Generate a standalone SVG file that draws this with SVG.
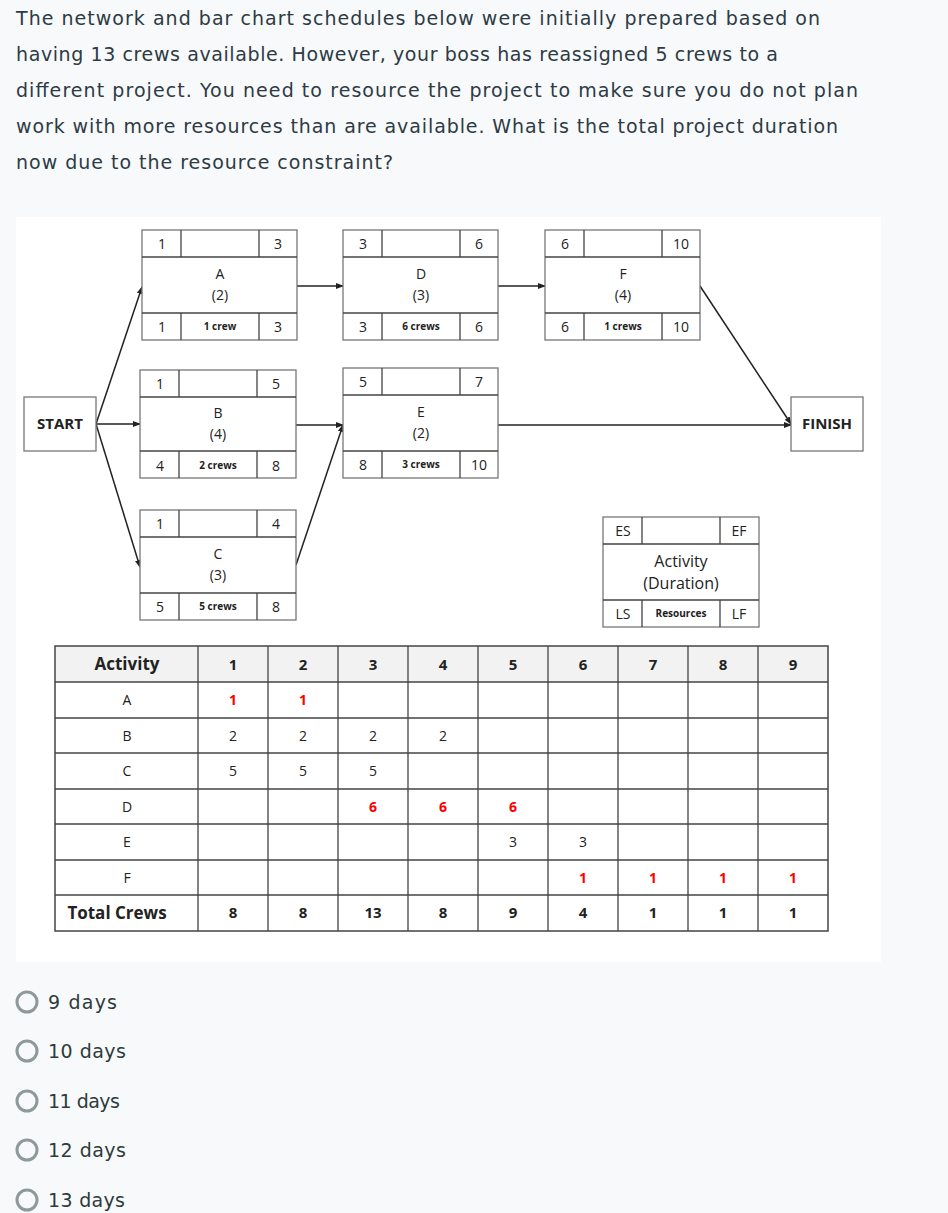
<svg xmlns="http://www.w3.org/2000/svg" width="948" height="1213" viewBox="0 0 948 1213">
<defs>
<style>
.q{font-family:"DejaVu Sans","Liberation Sans",sans-serif;font-size:19px;fill:#2d3b45}
.n{fill:#fff;stroke:#777;stroke-width:1.3}
.t{font-family:"Open Sans","Liberation Sans",sans-serif;font-size:14px;fill:#222;text-anchor:middle}
.tb{font-family:"Open Sans","Liberation Sans",sans-serif;font-size:10px;font-weight:bold;fill:#222;text-anchor:middle}
.se{font-family:"Open Sans","Liberation Sans",sans-serif;font-size:15px;font-weight:bold;fill:#222;text-anchor:middle}
.c{stroke:#222;stroke-width:1.5;fill:none;marker-end:url(#ah)}
.g{stroke:#444;stroke-width:1.3;fill:none}
.h{font-family:"Open Sans","Liberation Sans",sans-serif;font-size:15px;font-weight:bold;fill:#222;text-anchor:middle}
.r{font-family:"Open Sans","Liberation Sans",sans-serif;font-size:14px;fill:#222;text-anchor:middle}
.red{font-family:"Open Sans","Liberation Sans",sans-serif;font-size:14px;font-weight:bold;fill:#f00;text-anchor:middle}
.o{font-family:"DejaVu Sans","Liberation Sans",sans-serif;font-size:19px;fill:#2d3b3b}
.rad{fill:none;stroke:#8e9a99;stroke-width:3}
</style>
<marker id="ah" markerWidth="8" markerHeight="8" refX="7" refY="4" orient="auto" markerUnits="userSpaceOnUse"><path d="M0,1 L8,4 L0,7 Z" fill="#222"/></marker>
</defs>
<rect width="948" height="1213" fill="#f8f9fb"/>
<g id="question">
<text class="q" x="16" y="25" textLength="804">The network and bar chart schedules below were initially prepared based on</text>
<text class="q" x="16" y="61" textLength="762">having 13 crews available.  However, your boss has reassigned 5 crews to a</text>
<text class="q" x="16" y="97" textLength="842">different project.  You need to resource the project to make sure you do not plan</text>
<text class="q" x="16" y="133" textLength="822">work with more resources than are available.  What is the total project duration</text>
<text class="q" x="16" y="169" textLength="377">now due to the resource constraint?</text>
</g>
<rect x="16" y="217" width="865" height="745" fill="#fff"/>
<g id="connectors">
<path class="c" d="M96,424 L140,424"/>
<path class="c" d="M96,424 L142,287"/>
<path class="c" d="M96,424 L140,567"/>
<path class="c" d="M297,286 L343,286"/>
<path class="c" d="M296,425 L343,425"/>
<path class="c" d="M296,565 L343,425"/>
<path class="c" d="M498,286 L545,286"/>
<path class="c" d="M700,286 L791,424"/>
<path class="c" d="M498,425 L791,425"/>
</g>
<g id="start"><rect class="n" x="24" y="397" width="72" height="54"/><text class="se" x="60" y="429">START</text></g>
<g id="finish"><rect class="n" x="791" y="397" width="72" height="54"/><text class="se" x="827" y="429">FINISH</text></g>
<g id="nodeA" transform="translate(142,230)">
<rect class="n" width="155" height="110"/><path class="g" d="M0,27H155M0,83H155M39,0V27M117,0V27M39,83V110M117,83V110"/>
<text class="t" x="20" y="19">1</text><text class="t" x="136" y="19">3</text>
<text class="t" x="78" y="49">A</text><text class="t" x="78" y="70">(2)</text>
<text class="t" x="20" y="102">1</text><text class="tb" x="78" y="100">1 crew</text><text class="t" x="136" y="102">3</text></g>
<g id="nodeD" transform="translate(343,230)">
<rect class="n" width="155" height="110"/><path class="g" d="M0,27H155M0,83H155M39,0V27M117,0V27M39,83V110M117,83V110"/>
<text class="t" x="20" y="19">3</text><text class="t" x="136" y="19">6</text>
<text class="t" x="78" y="49">D</text><text class="t" x="78" y="70">(3)</text>
<text class="t" x="20" y="102">3</text><text class="tb" x="78" y="100">6 crews</text><text class="t" x="136" y="102">6</text></g>
<g id="nodeF" transform="translate(545,230)">
<rect class="n" width="155" height="110"/><path class="g" d="M0,27H155M0,83H155M39,0V27M117,0V27M39,83V110M117,83V110"/>
<text class="t" x="20" y="19">6</text><text class="t" x="136" y="19">10</text>
<text class="t" x="78" y="49">F</text><text class="t" x="78" y="70">(4)</text>
<text class="t" x="20" y="102">6</text><text class="tb" x="78" y="100">1 crews</text><text class="t" x="136" y="102">10</text></g>
<g id="nodeB" transform="translate(140,370)">
<rect class="n" width="156" height="108"/><path class="g" d="M0,27H156M0,81H156M39,0V27M117,0V27M39,81V108M117,81V108"/>
<text class="t" x="20" y="19">1</text><text class="t" x="136" y="19">5</text>
<text class="t" x="78" y="48">B</text><text class="t" x="78" y="69">(4)</text>
<text class="t" x="20" y="101">4</text><text class="tb" x="78" y="99">2 crews</text><text class="t" x="136" y="101">8</text></g>
<g id="nodeE" transform="translate(343,368)">
<rect class="n" width="155" height="110"/><path class="g" d="M0,27H155M0,83H155M39,0V27M117,0V27M39,83V110M117,83V110"/>
<text class="t" x="20" y="19">5</text><text class="t" x="136" y="19">7</text>
<text class="t" x="78" y="49">E</text><text class="t" x="78" y="70">(2)</text>
<text class="t" x="20" y="102">8</text><text class="tb" x="78" y="100">3 crews</text><text class="t" x="136" y="102">10</text></g>
<g id="nodeC" transform="translate(140,510)">
<rect class="n" width="156" height="110"/><path class="g" d="M0,27H156M0,83H156M39,0V27M117,0V27M39,83V110M117,83V110"/>
<text class="t" x="20" y="19">1</text><text class="t" x="136" y="19">4</text>
<text class="t" x="78" y="49">C</text><text class="t" x="78" y="70">(3)</text>
<text class="t" x="20" y="102">5</text><text class="tb" x="78" y="100">5 crews</text><text class="t" x="136" y="102">8</text></g>
<g id="legend" transform="translate(603,517)">
<rect class="n" width="156" height="110"/><path class="g" d="M0,27H156M0,83H156M39,0V27M117,0V27M39,83V110M117,83V110"/>
<text class="t" x="20" y="19">ES</text><text class="t" x="136" y="19">EF</text>
<text class="t" x="78" y="50" style="font-size:16px">Activity</text><text class="t" x="78" y="72" style="font-size:16px">(Duration)</text>
<text class="t" x="20" y="102">LS</text><text class="tb" x="78" y="100">Resources</text><text class="t" x="136" y="102">LF</text></g>
<g id="table">
<rect x="55" y="646" width="773" height="36" fill="#f2f2f2"/>
<rect x="55" y="646" width="773" height="285" fill="none" stroke="#444" stroke-width="1.5"/>
<path class="g" d="M55,682H828M55,718H828M55,753H828M55,789H828M55,824H828M55,860H828M55,895H828M198,646V931M268,646V931M338,646V931M408,646V931M478,646V931M548,646V931M618,646V931M688,646V931M758,646V931"/>
<text class="h" x="127" y="670" style="font-size:17px">Activity</text>
<text class="h" x="233" y="670">1</text><text class="h" x="303" y="670">2</text><text class="h" x="373" y="670">3</text><text class="h" x="443" y="670">4</text><text class="h" x="513" y="670">5</text><text class="h" x="583" y="670">6</text><text class="h" x="653" y="670">7</text><text class="h" x="723" y="670">8</text><text class="h" x="793" y="670">9</text>
<text class="r" x="127" y="705">A</text><text class="red" x="233" y="705">1</text><text class="red" x="303" y="705">1</text>
<text class="r" x="127" y="741">B</text><text class="r" x="233" y="741">2</text><text class="r" x="303" y="741">2</text><text class="r" x="373" y="741">2</text><text class="r" x="443" y="741">2</text>
<text class="r" x="127" y="776">C</text><text class="r" x="233" y="776">5</text><text class="r" x="303" y="776">5</text><text class="r" x="373" y="776">5</text>
<text class="r" x="127" y="812">D</text><text class="red" x="373" y="812">6</text><text class="red" x="443" y="812">6</text><text class="red" x="513" y="812">6</text>
<text class="r" x="127" y="847">E</text><text class="r" x="513" y="847">3</text><text class="r" x="583" y="847">3</text>
<text class="r" x="127" y="883">F</text><text class="red" x="583" y="883">1</text><text class="red" x="653" y="883">1</text><text class="red" x="723" y="883">1</text><text class="red" x="793" y="883">1</text>
<text class="h" x="117" y="919" style="font-size:17px">Total Crews</text>
<text class="h" x="233" y="918">8</text><text class="h" x="303" y="918">8</text><text class="h" x="373" y="918">13</text><text class="h" x="443" y="918">8</text><text class="h" x="513" y="918">9</text><text class="h" x="583" y="918">4</text><text class="h" x="653" y="918">1</text><text class="h" x="723" y="918">1</text><text class="h" x="793" y="918">1</text>
</g>
<g id="options">
<circle class="rad" cx="27" cy="1002" r="10"/><text class="o" x="48" y="1009" textLength="69">9 days</text>
<circle class="rad" cx="27" cy="1051" r="10"/><text class="o" x="48" y="1058" textLength="78">10 days</text>
<circle class="rad" cx="27" cy="1101" r="10"/><text class="o" x="48" y="1108" textLength="72">11 days</text>
<circle class="rad" cx="27" cy="1150" r="10"/><text class="o" x="48" y="1157" textLength="78">12 days</text>
<circle class="rad" cx="27" cy="1200" r="10"/><text class="o" x="48" y="1207" textLength="77">13 days</text>
</g>
</svg>
